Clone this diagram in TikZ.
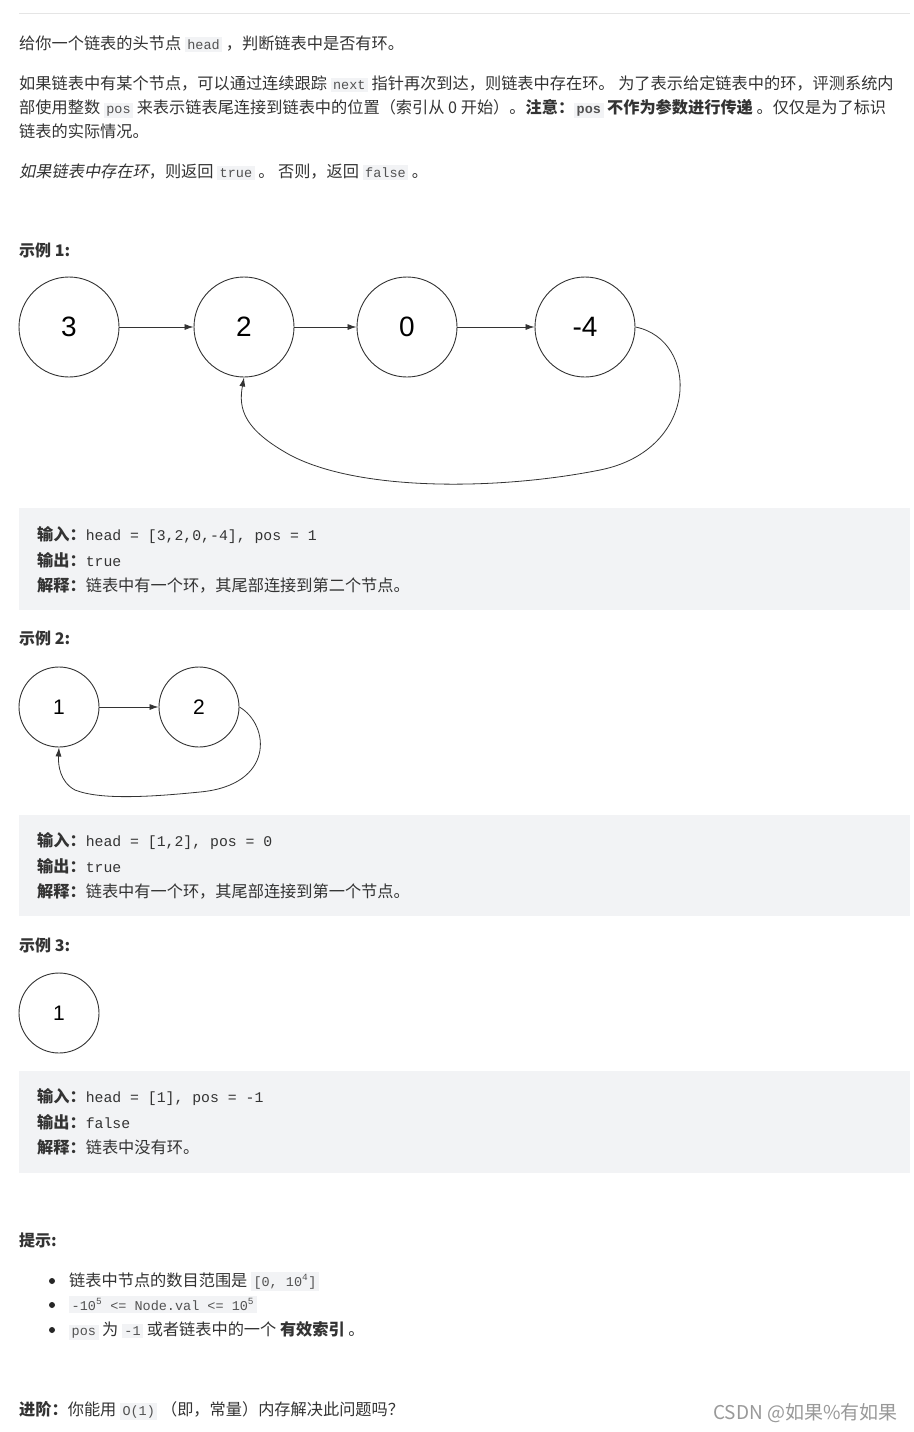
\documentclass[tikz,border=0pt]{standalone}
\usepackage{fontspec}
\setmainfont{Noto Sans CJK SC}
\newfontfamily\cjk{Noto Sans CJK SC}
\newfontfamily\mono{Liberation Mono}
\newfontfamily\num{Liberation Sans}
\definecolor{codebg}{HTML}{F2F3F5}
\definecolor{txt}{HTML}{333333}
\newcommand{\cd}[1]{{\setlength\fboxsep{2.5pt}\colorbox{codebg}{\mono\fontsize{13.5}{13.5}\selectfont\color{txt!85}#1}}}
\newcommand{\ms}[1]{{\mono\fontsize{14.8}{14.8}\selectfont #1}}
\begin{document}
\begin{tikzpicture}[x=1pt,y=-1pt,
  t/.style={anchor=base west,inner sep=0pt,font=\fontsize{16.2}{18}\selectfont,text=txt},
  circ/.style={circle,draw=black!80,line width=0.9pt,minimum size=#1,inner sep=0pt},
  arr/.style={-{Latex[length=9pt,width=6pt]},line width=0.8pt,draw=black!80},
  codebox/.style={fill=codebg,draw=none}]
\usetikzlibrary{arrows.meta}
\useasboundingbox (0,0) rectangle (913,1432);
\fill[white] (0,0) rectangle (913,1432);
\draw[black!10,line width=1pt] (19,13) -- (910,13);
\node[t] (p1) at (19,49) {给你一个链表的头节点 \cd{head} ，判断链表中是否有环。};
\node[t] (p2) at (19,89) {如果链表中有某个节点，可以通过连续跟踪 \cd{next} 指针再次到达，则链表中存在环。 为了表示给定链表中的环，评测系统内};
\node[t] (p3) at (19,113) {部使用整数 \cd{pos} 来表示链表尾连接到链表中的位置（索引从 0 开始）。\textbf{注意：}\cd{\textbf{pos}} \textbf{不作为参数进行传递} 。仅仅是为了标识};
\node[t] (p4) at (19,137) {链表的实际情况。};
\node[t] (p5) at (19,177) {\fontspec{Noto Sans CJK SC}[FakeSlant=0.2]如果链表中存在环\cjk ，则返回 \cd{true} 。 否则，返回 \cd{false} 。};
% example 1
\node[t,font=\bfseries\fontsize{16}{18}\selectfont] (h1) at (19,256) {示例 1:};
\begin{scope}[every node/.style={circ=100pt,font=\num\fontsize{28}{28}\selectfont}]
\node (a) at (69,327) {3};
\node (b) at (244,327) {2};
\node (c) at (407,327) {0};
\node (d) at (585,327) {-4};
\end{scope}
\draw[arr] (a) -- (b);
\draw[arr] (b) -- (c);
\draw[arr] (c) -- (d);
\draw[arr] (d.east) .. controls (700,340) and (700,450) .. (600,470) .. controls (500,490) and (360,492) .. (290,455) .. controls (245,430) and (238,410) .. (b.south);
\fill[codebox] (19,508) rectangle (910,610);
\node[t] (o1a) at (37,540) {\textbf{输入：}\ms{head = [3,2,0,-4], pos = 1}};
\node[t] (o1b) at (37,566) {\textbf{输出：}\ms{true}};
\node[t] (o1c) at (37,591) {\textbf{解释：}链表中有一个环，其尾部连接到第二个节点。};
% example 2
\node[t,font=\bfseries\fontsize{16}{18}\selectfont] (h2) at (19,644) {示例 2:};
\begin{scope}[every node/.style={circ=80pt,font=\num\fontsize{21}{21}\selectfont}]
\node (e) at (59,707) {1};
\node (f) at (199,707) {2};
\end{scope}
\draw[arr] (e) -- (f);
\draw[arr] (f.east) .. controls (270,725) and (275,785) .. (200,792) .. controls (150,797) and (100,800) .. (75,790) .. controls (60,782) and (58,765) .. (e.south);
\fill[codebox] (19,815) rectangle (910,916);
\node[t] (o2a) at (37,846) {\textbf{输入：}\ms{head = [1,2], pos = 0}};
\node[t] (o2b) at (37,872) {\textbf{输出：}\ms{true}};
\node[t] (o2c) at (37,897) {\textbf{解释：}链表中有一个环，其尾部连接到第一个节点。};
% example 3
\node[t,font=\bfseries\fontsize{16}{18}\selectfont] (h3) at (19,951) {示例 3:};
\node[circ=80pt,font=\num\fontsize{21}{21}\selectfont] (g) at (59,1013) {1};
\fill[codebox] (19,1071) rectangle (910,1173);
\node[t] (o3a) at (37,1102) {\textbf{输入：}\ms{head = [1], pos = -1}};
\node[t] (o3b) at (37,1128) {\textbf{输出：}\ms{false}};
\node[t] (o3c) at (37,1153) {\textbf{解释：}链表中没有环。};
% hints
\node[t,font=\bfseries\fontsize{16}{18}\selectfont] (h4) at (19,1246) {提示:};
\fill[black!85] (52,1281) circle (3pt);
\fill[black!85] (52,1305) circle (3pt);
\fill[black!85] (52,1330) circle (3pt);
\node[t] (b1) at (69,1286) {链表中节点的数目范围是 \cd{[0, 10\textsuperscript{4}]}};
\node[t] (b2) at (69,1310) {\cd{-10\textsuperscript{5} <= Node.val <= 10\textsuperscript{5}}};
\node[t] (b3) at (69,1335) {\cd{pos} 为 \cd{-1} 或者链表中的一个 \textbf{有效索引} 。};
\node[t] (adv) at (19,1415) {\textbf{进阶：}你能用 \cd{O(1)} （即，常量）内存解决此问题吗？};
\node[anchor=base east,inner sep=0pt,font=\fontsize{19}{19}\selectfont,text=black!40] (wm) at (898,1419) {CSDN @如果\%有如果};
\end{tikzpicture}
\end{document}
